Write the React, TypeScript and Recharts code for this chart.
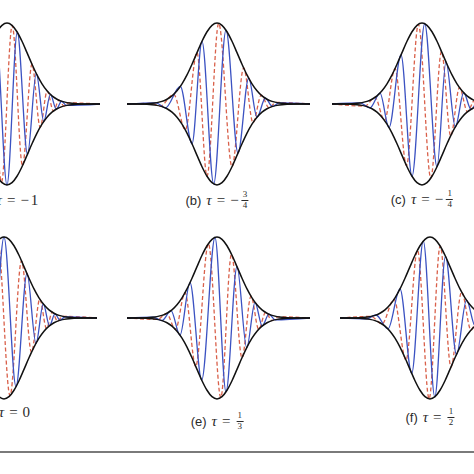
import { LineChart, Line, XAxis, YAxis } from "recharts";

type Pt = [number, number];

// envelope height (fraction of the peak) against the offset from the packet centre
const envX = [-90, -80, -70, -65, -60, -55, -50, -45, -40, -35, -30, -25, -20, -15, -10, -5, 0, 5, 10, 15, 20, 25, 30, 35, 40, 45, 50, 55, 60, 65, 70, 80, 93];
const envY = [0, 0, 0.003, 0.008, 0.017, 0.032, 0.059, 0.1, 0.163, 0.249, 0.36, 0.492, 0.635, 0.775, 0.893, 0.972, 1, 0.972, 0.893, 0.775, 0.635, 0.492, 0.36, 0.249, 0.163, 0.1, 0.059, 0.032, 0.017, 0.008, 0.003, 0, 0];

// turning points of the real part (blue) and imaginary part (red), one pair per panel
const blueA: Pt[] = [[-50, -0.059], [-36, 0.23], [-23, -0.549], [-11, 0.872], [0, -1], [10.3, 0.887], [20.5, -0.621], [29.3, 0.378], [36.8, -0.215], [43.4, 0.118], [49.3, -0.064], [54.6, 0.034], [59.5, -0.018]];
const redA: Pt[] = [[-43, 0.123], [-29.5, -0.373], [-17, 0.72], [-5.5, -0.966], [5.2, 0.97], [15.5, -0.762], [25, 0.492], [33.2, -0.287], [40.2, 0.16], [46.4, -0.087], [52, 0.047], [57, -0.025], [61.5, 0.014]];

const blueB: Pt[] = [[-61, 0.015], [-51.7, -0.048], [-36.7, 0.217], [-25, -0.492], [-15, 0.775], [-3.3, -0.988], [9, 0.912], [21, -0.606], [31.7, 0.32], [40, -0.163], [48.3, 0.071], [55.5, -0.03], [62, 0.013]];
const redB: Pt[] = [[-66, 0.007], [-56.7, -0.026], [-43.3, 0.12], [-31.7, -0.32], [-20, 0.635], [-10, -0.893], [1.7, 0.997], [15, -0.775], [26.7, 0.446], [36, -0.23], [44.3, 0.108], [52, -0.047], [59, 0.019]];

const blueC: Pt[] = [[-62, 0.013], [-52, -0.047], [-42, 0.135], [-33, -0.291], [-21, 0.606], [-10, -0.893], [2.7, 0.992], [15, -0.775], [24, 0.521], [33.3, -0.284], [41.7, 0.139], [49, -0.066], [56, 0.029]];
const redC: Pt[] = [[-57, -0.025], [-47, 0.082], [-37.5, -0.203], [-27, 0.438], [-15.5, -0.762], [-3.6, 0.985], [8.8, -0.916], [19.5, 0.65], [28.7, -0.393], [37.5, 0.203], [45.5, -0.096], [52.5, 0.044], [59, -0.019]];

const blueD: Pt[] = [[-41, -0.149], [-26.5, 0.45], [-12.8, -0.83], [0, 1], [12, -0.849], [23, 0.549], [32, -0.313], [39.3, 0.174], [45.5, -0.096], [51, 0.052], [56, -0.028], [61, 0.015]];
const redD: Pt[] = [[-48.5, -0.069], [-33.5, 0.28], [-19.5, -0.65], [-6.3, 0.956], [6, -0.96], [17.5, 0.707], [27.5, -0.424], [35.8, 0.234], [42.5, -0.129], [48.3, 0.071], [53.6, -0.039], [58.5, 0.021]];

const blueE: Pt[] = [[-64, 0.01], [-55, -0.032], [-46, 0.091], [-37, -0.212], [-27, 0.438], [-15.3, -0.767], [-2, 0.995], [9, -0.912], [20, 0.635], [29.7, -0.368], [38, 0.194], [45.2, -0.099], [52, 0.047], [58, -0.022]];
const redE: Pt[] = [[-59.5, -0.018], [-50.5, 0.056], [-41.5, -0.142], [-32, 0.313], [-21.3, -0.598], [-8.6, 0.92], [3.8, -0.984], [14.5, 0.788], [25, -0.492], [34, 0.27], [41.7, -0.139], [48.6, 0.069], [55, -0.032], [61, 0.015]];

const blueF: Pt[] = [[-63.5, -0.01], [-54, 0.037], [-42, -0.135], [-30, 0.36], [-18.3, -0.684], [-6.7, 0.95], [4.8, -0.974], [15.5, 0.762], [26.5, -0.451], [36.5, 0.22], [45.2, -0.099], [52.5, 0.044]];
const redF: Pt[] = [[-59, 0.019], [-48, -0.073], [-36, 0.23], [-24, -0.521], [-12.5, 0.838], [-0.9, -0.999], [10.2, 0.889], [21, -0.606], [31.6, 0.322], [41, -0.149], [49, 0.066]];

const tags = ["(a)", "(b)", "(c)", "(d)", "(e)", "(f)"];
const tauSign = ["−", "−", "−", "", "", ""];
const tauNum = ["1", "3", "1", "0", "1", "1"];
const tauDen = ["", "4", "4", "", "3", "2"];

const blues = [blueA, blueB, blueC, blueD, blueE, blueF];
const reds = [redA, redB, redC, redD, redE, redF];

// where each panel sits on the page
const panelX = [7, 217, 422, 4, 217, 430];
const panelBase = [104, 104, 104, 318, 318, 318];
const labelY = [200, 200, 199, 412, 421, 417];

const W = 190;
const H = 178;

const rows = (pts: Pt[]) => [
  { x: -90, y: 0 },
  ...pts.map(([x, y]) => ({ x, y })),
  { x: 93, y: 0 },
];

const upper = envX.map((x, i) => ({ x, y: envY[i] }));
const lower = envX.map((x, i) => ({ x, y: -envY[i] }));

function Packet({ i }: { i: number }) {
  return (
    <div style={{ position: "absolute", left: panelX[i] - W / 2, top: panelBase[i] - H / 2 }}>
      <LineChart width={W} height={H} margin={{ top: 0, right: 0, bottom: 0, left: 0 }}>
        <XAxis type="number" dataKey="x" domain={[-95, 95]} hide />
        <YAxis type="number" domain={[-1.1, 1.1]} hide />
        <Line data={rows(reds[i])} dataKey="y" type="monotone" stroke="#d9604a" strokeWidth={1.3} strokeDasharray="4 2.5" dot={false} isAnimationActive={false} />
        <Line data={rows(blues[i])} dataKey="y" type="monotone" stroke="#3b52c2" strokeWidth={1.3} dot={false} isAnimationActive={false} />
        <Line data={upper} dataKey="y" type="monotone" stroke="#111" strokeWidth={1.5} dot={false} isAnimationActive={false} />
        <Line data={lower} dataKey="y" type="monotone" stroke="#111" strokeWidth={1.5} dot={false} isAnimationActive={false} />
      </LineChart>
    </div>
  );
}

function Caption({ i }: { i: number }) {
  const serif = "'Liberation Serif', 'DejaVu Serif', serif";
  return (
    <div
      style={{
        position: "absolute",
        left: panelX[i],
        top: labelY[i],
        transform: "translate(-50%, -50%)",
        display: "flex",
        alignItems: "center",
        whiteSpace: "nowrap",
        color: "#2a2a2a",
      }}
    >
      <span style={{ fontFamily: "'Liberation Sans', Arial, sans-serif", fontSize: 13 }}>{tags[i]}</span>
      <span style={{ fontFamily: serif, fontStyle: "italic", fontSize: 15, marginLeft: 5 }}>τ</span>
      <span style={{ fontFamily: serif, fontSize: 15, margin: "0 5px" }}>=</span>
      {tauSign[i] && <span style={{ fontFamily: serif, fontSize: 15, marginRight: 2 }}>{tauSign[i]}</span>}
      {tauDen[i] ? (
        <span style={{ display: "inline-flex", flexDirection: "column", alignItems: "center", fontFamily: serif, fontSize: 9, lineHeight: "9px", marginLeft: 1 }}>
          <span>{tauNum[i]}</span>
          <span style={{ borderTop: "0.8px solid #2a2a2a", width: 7, marginTop: 1 }} />
          <span>{tauDen[i]}</span>
        </span>
      ) : (
        <span style={{ fontFamily: serif, fontSize: 15 }}>{tauNum[i]}</span>
      )}
    </div>
  );
}

export default function App() {
  return (
    <div style={{ position: "fixed", left: 0, top: 0, width: 474, height: 474, overflow: "hidden", background: "#fff" }}>
      {tags.map((_, i) => (
        <Packet key={"p" + i} i={i} />
      ))}
      {tags.map((_, i) => (
        <Caption key={"c" + i} i={i} />
      ))}
      <div style={{ position: "absolute", left: 0, top: 451, width: 474, height: 2, background: "#7a7a7a" }} />
    </div>
  );
}
